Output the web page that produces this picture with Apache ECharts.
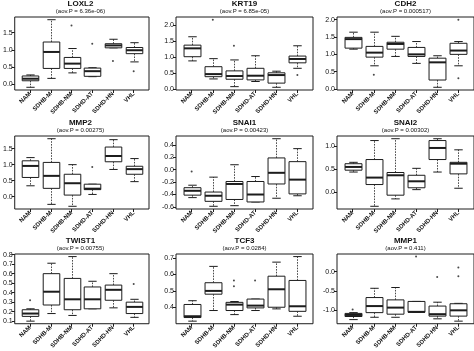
<!DOCTYPE html>
<html>
<head>
<meta charset="utf-8">
<title>EMT marker boxplots</title>
<script src="https://cdn.jsdelivr.net/npm/echarts@6/dist/echarts.min.js"></script>
<style>
    html, body { margin: 0; padding: 0; background: #fff; }
    #main { width: 474px; height: 351px; }
</style>
</head>
<body>
<div id="main"></div>
<script>
var categories = ['NAM', 'SDHB-M', 'SDHB-NM', 'SDHD-AT', 'SDHD-HN', 'VHL'];
var genes = ['LOXL2', 'KRT19', 'CDH2', 'MMP2', 'SNAI1', 'SNAI2', 'TWIST1', 'TCF3', 'MMP1'];
var aovP = ['6.36e-06', '6.85e-05', '0.000517', '0.00275', '0.00423', '0.00302', '0.00755', '0.0284', '0.411'];

// one row per group: [lower whisker, Q1, median, Q3, upper whisker]
var loxl2Box = [[-0.09, 0.10, 0.16, 0.24, 0.27], [0.17, 0.46, 0.94, 1.23, 1.88], [0.33, 0.46, 0.60, 0.78, 1.04],
                [0.22, 0.23, 0.38, 0.47, 0.48], [1.06, 1.06, 1.13, 1.18, 1.31], [0.65, 0.89, 0.99, 1.07, 1.21]];
var krt19Box = [[0.89, 1.02, 1.28, 1.38, 1.64], [0.33, 0.40, 0.48, 0.71, 0.96], [0.09, 0.32, 0.42, 0.58, 0.92],
                [0.25, 0.30, 0.43, 0.66, 1.05], [0.07, 0.20, 0.45, 0.52, 0.57], [0.66, 0.83, 0.95, 1.04, 1.36]];
var cdh2Box = [[1.15, 1.18, 1.44, 1.49, 1.64], [0.67, 0.92, 1.05, 1.23, 1.64], [0.94, 1.15, 1.30, 1.35, 1.52],
               [0.74, 0.94, 1.00, 1.20, 1.37], [0.05, 0.26, 0.77, 0.89, 0.96], [0.67, 1.00, 1.11, 1.32, 1.37]];
var mmp2Box = [[0.34, 0.60, 0.96, 1.12, 1.22], [-0.24, 0.26, 0.65, 1.07, 1.81], [-0.30, 0.05, 0.42, 0.70, 1.00],
               [0.07, 0.22, 0.25, 0.39, 0.39], [0.85, 1.09, 1.27, 1.55, 1.78], [0.47, 0.70, 0.86, 0.95, 1.19]];
var snai1Box = [[-0.45, -0.41, -0.34, -0.29, -0.25], [-0.59, -0.51, -0.42, -0.36, -0.12], [-0.58, -0.48, -0.23, -0.19, 0.08],
                [-0.52, -0.52, -0.40, -0.19, -0.11], [-0.46, -0.23, -0.05, 0.19, 0.50], [-0.42, -0.39, -0.16, 0.13, 0.34]];
var snai2Box = [[0.44, 0.48, 0.55, 0.62, 0.65], [-0.30, 0.17, 0.32, 0.71, 1.12], [-0.14, -0.06, 0.37, 0.43, 1.16],
                [0.06, 0.10, 0.24, 0.37, 0.52], [0.44, 0.71, 0.96, 1.12, 1.16], [0.09, 0.40, 0.62, 0.65, 0.92]];
var twist1Box = [[0.10, 0.15, 0.18, 0.22, 0.23], [0.18, 0.27, 0.41, 0.60, 0.71], [0.16, 0.22, 0.33, 0.55, 0.78],
                 [0.23, 0.23, 0.33, 0.46, 0.52], [0.24, 0.32, 0.43, 0.48, 0.60], [0.14, 0.18, 0.25, 0.30, 0.33]];
var tcf3Box = [[0.315, 0.337, 0.345, 0.417, 0.44], [0.38, 0.48, 0.50, 0.55, 0.65], [0.355, 0.38, 0.416, 0.43, 0.435],
               [0.38, 0.396, 0.41, 0.45, 0.45], [0.39, 0.40, 0.51, 0.59, 0.676], [0.345, 0.375, 0.406, 0.564, 0.71]];
var mmp1Box = [[-1.24, -1.16, -1.12, -1.08, -1.06], [-1.18, -1.06, -0.89, -0.67, -0.43], [-1.18, -1.10, -0.93, -0.73, -0.41],
               [-1.05, -1.05, -1.04, -0.77, -0.77], [-1.22, -1.15, -1.10, -0.89, -0.79], [-1.28, -1.15, -1.00, -0.83, -0.82]];

// outliers: [group number (1-6), value]
var loxl2Out = [[3, 1.71], [4, 1.18], [5, 0.68], [6, 0.38]];
var krt19Out = [[2, 2.17], [3, 1.36], [6, 0.45]];
var cdh2Out = [[2, 0.41], [6, 2.0], [6, 0.31]];
var mmp2Out = [[4, 0.93]];
var snai1Out = [[1, -0.03]];
var snai2Out = [];
var twist1Out = [[1, 0.32], [6, 0.49]];
var tcf3Out = [[3, 0.564], [3, 0.528], [4, 0.564]];
var mmp1Out = [[1, -0.98], [4, 0.39], [5, -0.14], [6, 0.11], [6, -0.12]];

var loxl2Ticks = [0, 0.5, 1, 1.5];
var krt19Ticks = [0, 0.5, 1, 1.5, 2];
var cdh2Ticks = [0, 0.5, 1, 1.5, 2];
var mmp2Ticks = [0, 0.5, 1, 1.5];
var snai1Ticks = [-0.6, -0.4, -0.2, 0, 0.2, 0.4];
var snai2Ticks = [0, 0.5, 1];
var twist1Ticks = [0.1, 0.2, 0.3, 0.4, 0.5, 0.6, 0.7, 0.8];
var tcf3Ticks = [0.4, 0.5, 0.6, 0.7];
var mmp1Ticks = [-1, -0.5, 0];

var boxes = [loxl2Box, krt19Box, cdh2Box, mmp2Box, snai1Box, snai2Box, twist1Box, tcf3Box, mmp1Box];
var outliers = [loxl2Out, krt19Out, cdh2Out, mmp2Out, snai1Out, snai2Out, twist1Out, tcf3Out, mmp1Out];
var ticks = [loxl2Ticks, krt19Ticks, cdh2Ticks, mmp2Ticks, snai1Ticks, snai2Ticks, twist1Ticks, tcf3Ticks, mmp1Ticks];

var ink = '#1c1c1c';
var font = '"Liberation Sans", Arial, sans-serif';
var colLeft = [12, 176, 337];
var rowTop = [17, 136, 254];
var panelW = 137, panelH = 73;
var groupPos = [1, 2, 3, 4, 5, 6];
var xMin = 0.26, xMax = 6.74;   // R boxplot x range 0.5..6.5 padded by 4%

function renderBox(params, api) {
    var x = api.value(0);
    var lo = api.coord([x, api.value(1)]);
    var q1 = api.coord([x, api.value(2)]);
    var md = api.coord([x, api.value(3)]);
    var q3 = api.coord([x, api.value(4)]);
    var hi = api.coord([x, api.value(5)]);
    var half = api.size([0.8, 0])[0] / 2;
    var cap = half / 2;
    var cx = Math.round(lo[0]) + 0.5;
    var dash = {stroke: ink, lineWidth: 0.8, lineDash: [1.6, 1.2]};
    var solid = {stroke: ink, lineWidth: 1};
    return {
        type: 'group',
        children: [
            {type: 'line', shape: {x1: cx, y1: q3[1], x2: cx, y2: hi[1]}, style: dash},
            {type: 'line', shape: {x1: cx, y1: q1[1], x2: cx, y2: lo[1]}, style: dash},
            {type: 'line', shape: {x1: cx - cap, y1: hi[1], x2: cx + cap, y2: hi[1]}, style: solid},
            {type: 'line', shape: {x1: cx - cap, y1: lo[1], x2: cx + cap, y2: lo[1]}, style: solid},
            {type: 'rect', shape: {x: cx - half, y: q3[1], width: half * 2, height: q1[1] - q3[1]},
                style: {fill: '#fff', stroke: ink, lineWidth: 1}},
            {type: 'line', shape: {x1: cx - half, y1: md[1], x2: cx + half, y2: md[1]},
                style: {stroke: ink, lineWidth: 2}}
        ]
    };
}

// fallback drawing of axis ticks, used only if axis customValues are rejected
function renderXTick(params, api) {
    var p = api.coord([api.value(0), api.value(1)]);
    var cx = Math.round(p[0]) + 0.5;
    return {
        type: 'group',
        children: [
            {type: 'line', shape: {x1: cx, y1: p[1], x2: cx, y2: p[1] + 3}, style: {stroke: ink, lineWidth: 1}},
            {type: 'text', x: cx + 1, y: p[1] + 5, rotation: Math.PI / 4,
                style: {text: categories[params.dataIndex], align: 'right', verticalAlign: 'middle',
                    fill: '#111', fontSize: 6, fontWeight: 'bold', fontFamily: font}}
        ]
    };
}

function renderYTick(params, api) {
    var v = api.value(1);
    var p = api.coord([api.value(0), v]);
    var cy = Math.round(p[1]) + 0.5;
    return {
        type: 'group',
        children: [
            {type: 'line', shape: {x1: p[0] - 3, y1: cy, x2: p[0], y2: cy}, style: {stroke: ink, lineWidth: 1}},
            {type: 'text', x: p[0] - 5, y: cy,
                style: {text: v.toFixed(1), align: 'right', verticalAlign: 'middle',
                    fill: '#111', fontSize: 7, fontFamily: font}}
        ]
    };
}

function xLabel(v) { return categories[Math.round(v) - 1] || ''; }
function yLabel(v) { return (+v).toFixed(1); }

function buildOption(useAxisTicks) {
    var grid = [], xAxis = [], yAxis = [], series = [], title = [];
    for (var i = 0; i < 9; i++) {
        var left = colLeft[i % 3], top = rowTop[Math.floor(i / 3)];
        // R style range: data extent padded by 4% on both ends
        var vals = [];
        boxes[i].forEach(function (b) { vals = vals.concat(b); });
        outliers[i].forEach(function (o) { vals.push(o[1]); });
        var lo = Math.min.apply(null, vals), hi = Math.max.apply(null, vals);
        var pad = (hi - lo) * 0.04;
        var yMin = lo - pad, yMax = hi + pad;

        grid.push({
            left: left, top: top, width: panelW, height: panelH,
            show: true, borderColor: ink, borderWidth: 1
        });
        if (useAxisTicks) {
            xAxis.push({
                gridIndex: i, type: 'value', min: xMin, max: xMax,
                axisLine: {show: false, onZero: false},
                splitLine: {show: false},
                axisTick: {show: true, customValues: groupPos, length: 3, lineStyle: {color: ink, width: 1}},
                axisLabel: {customValues: groupPos, rotate: 45, fontSize: 6, margin: 3, color: '#111',
                    fontFamily: font, fontWeight: 'bold', formatter: xLabel}
            });
            yAxis.push({
                gridIndex: i, type: 'value', min: yMin, max: yMax,
                axisLine: {show: false, onZero: false},
                splitLine: {show: false},
                axisTick: {show: true, customValues: ticks[i], length: 3, lineStyle: {color: ink, width: 1}},
                axisLabel: {customValues: ticks[i], fontSize: 7, margin: 2, color: '#111',
                    fontFamily: font, formatter: yLabel}
            });
        } else {
            xAxis.push({gridIndex: i, type: 'value', min: xMin, max: xMax, show: false});
            yAxis.push({gridIndex: i, type: 'value', min: yMin, max: yMax, show: false});
            series.push({
                type: 'custom', xAxisIndex: i, yAxisIndex: i, renderItem: renderXTick, clip: false,
                data: groupPos.map(function (g) { return [g, yMin]; }), silent: true
            });
            series.push({
                type: 'custom', xAxisIndex: i, yAxisIndex: i, renderItem: renderYTick, clip: false,
                data: ticks[i].map(function (t) { return [xMin, t]; }), silent: true
            });
        }
        series.push({
            type: 'custom', xAxisIndex: i, yAxisIndex: i, renderItem: renderBox,
            data: boxes[i].map(function (b, k) { return [groupPos[k]].concat(b); }),
            silent: true
        });
        series.push({
            type: 'scatter', xAxisIndex: i, yAxisIndex: i,
            data: outliers[i], symbol: 'circle', symbolSize: 2,
            itemStyle: {color: ink}, silent: true
        });
        title.push({
            text: genes[i], subtext: '(aov.P = ' + aovP[i] + ')',
            left: left + panelW / 2, top: top - 18, textAlign: 'center',
            padding: 0, itemGap: 0,
            textStyle: {fontSize: 8, fontWeight: 'bold', lineHeight: 9, color: '#111', fontFamily: font},
            subtextStyle: {fontSize: 6, lineHeight: 7, color: '#111', fontFamily: font}
        });
    }
    return {animation: false, title: title, grid: grid, xAxis: xAxis, yAxis: yAxis, series: series};
}

var dom = document.getElementById('main');
var tries = [true, false];
for (var t = 0; t < tries.length; t++) {
    var chart = echarts.init(dom);
    try {
        chart.setOption(buildOption(tries[t]));
        break;
    } catch (e) {
        chart.dispose();
    }
}
</script>
</body>
</html>
